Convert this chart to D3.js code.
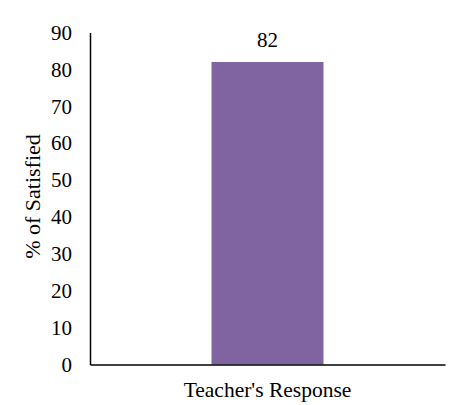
<!DOCTYPE html>
<html>
<head>
<meta charset="utf-8">
<style>
    body { margin: 0; background: #fff; }
    svg { display: block; }
    svg text { font-family: 'Times New Roman', 'Liberation Serif', serif; fill: #000; }
</style>
</head>
<body>
<svg width="474" height="405"></svg>
<script src="https://d3js.org/d3.v7.min.js"></script>
<script>
    // data
    let categories = ["Teacher's Response"]
    let values = [82]
    let yTicks = [0, 10, 20, 30, 40, 50, 60, 70, 80, 90]

    let svg = d3.select("svg")
    let mLeft = 90, mRight = 445, mTop = 32.5, mBottom = 364.5

    let x = d3.scaleBand()
        .domain(categories)
        .range([mLeft, mRight])
        .paddingInner(0)
        .paddingOuter(1.085)

    let y = d3.scaleLinear()
        .domain([0, 90])
        .range([mBottom, mTop])

    // y axis
    let yAxis = svg.append("g")
        .attr("transform", `translate(${mLeft},0)`)
        .call(d3.axisLeft(y).tickValues(yTicks).tickSize(0).tickPadding(18))
        .attr("font-family", null)
        .attr("font-size", 21)
    yAxis.select(".domain").attr("stroke", "#000").attr("stroke-width", 1.5)

    // bars
    svg.selectAll(".bar")
        .data(values)
        .join("rect")
        .attr("x", (d, i) => x(categories[i]))
        .attr("y", d => y(d))
        .attr("width", x.bandwidth())
        .attr("height", d => y(0) - y(d))
        .attr("fill", "#8064a2")

    // value labels
    svg.selectAll(".val")
        .data(values)
        .join("text")
        .attr("x", (d, i) => x(categories[i]) + x.bandwidth() / 2)
        .attr("y", d => y(d) - 15)
        .attr("text-anchor", "middle")
        .attr("font-size", 21)
        .text(d => d)

    // x axis
    let xAxis = svg.append("g")
        .attr("transform", `translate(0,${mBottom})`)
        .call(d3.axisBottom(x).tickSize(0).tickPadding(17))
        .attr("font-family", null)
        .attr("font-size", 21.5)
    xAxis.select(".domain").attr("stroke", "#000").attr("stroke-width", 1.5)

    // y label
    svg.append("text")
        .attr("transform", `translate(40,196.5) rotate(-90)`)
        .attr("text-anchor", "middle")
        .attr("font-size", 22)
        .text("% of Satisfied")
</script>
</body>
</html>
